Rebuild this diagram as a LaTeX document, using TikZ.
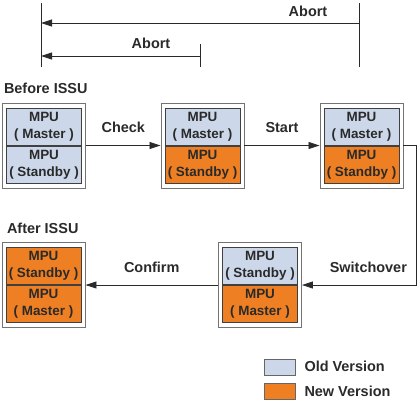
\documentclass[tikz,border=0pt]{standalone}
\usepackage{fontspec}
\setmainfont{Liberation Sans}
\usetikzlibrary{arrows.meta}
\definecolor{old}{HTML}{CCD8E9}
\definecolor{new}{HTML}{EF7F23}
\definecolor{ink}{HTML}{2A2A2A}

\begin{document}
\begin{tikzpicture}[x=1bp,y=-1bp,
  font=\bfseries, text=ink,
  unit/.style={draw=black!55, line width=0.9pt, fill=white, minimum width=83bp, minimum height=85bp, inner sep=0pt},
  half/.style={draw=black!75, line width=0.7pt, minimum width=75bp, minimum height=37bp, inner sep=0pt, align=center, font=\bfseries\fontsize{13.5}{17}\selectfont},
  lbl/.style={font=\bfseries\fontsize{14.5}{17}\selectfont},
  flow/.style={-{Triangle[length=11bp,width=7bp]}, draw=ink, line width=0.8pt},
  key/.style={draw=black!60, line width=0.8pt, minimum width=31bp, minimum height=16bp, inner sep=0pt}]
\useasboundingbox (0,0) rectangle (420,400);
% abort markers
\coordinate (s0) at (41,3); \coordinate (s1) at (41,67);
\coordinate (m0) at (200,44); \coordinate (m1) at (200,67);
\coordinate (e0) at (359,3); \coordinate (e1) at (359,67);
\draw[ink, line width=0.8pt] (s0) -- (s1) (m0) -- (m1) (e0) -- (e1);
\coordinate (la) at (359,23); \coordinate (lb) at (41,23);
\coordinate (sa) at (200,56); \coordinate (sb) at (41,56);
\draw[flow] (la) -- (lb);
\draw[flow] (sa) -- (sb);
\node[lbl] (ab1) at (308,11) {Abort};
\node[lbl] (ab2) at (151,43) {Abort};
% MPU units
\foreach \n/\x/\y/\ca/\ta/\cb/\tb in {u1/44/145.5/old/Master/old/Standby,
  u2/202.5/145.5/old/Master/new/Standby, u3/361.5/145.5/old/Master/new/Standby,
  u4/260/285/old/Standby/new/Master, u5/43.5/285/new/Standby/new/Master}
{
  \node[unit] (\n) at (\x,\y) {};
  \node[half, fill=\ca, anchor=south] (\n a) at (\n.center) {MPU\\( \ta{} )};
  \node[half, fill=\cb, anchor=north] (\n b) at (\n.center) {MPU\\( \tb{} )};
}
\node[lbl, anchor=west] (before) at (0.5,88) {Before ISSU};
\node[lbl, anchor=west] (after) at (3.5,228) {After ISSU};
% steps
\draw[flow] (u1) -- (u2) node[lbl, midway, above=9bp] {Check};
\draw[flow] (u2) -- (u3) node[lbl, midway, above=9bp] {Start};
\draw[flow] (u3.east) -- ++(13,0) |- (u4.east) node[lbl, pos=0.71, above=9bp] {Switchover};
\draw[flow] (u4) -- (u5) node[lbl, midway, above=9bp] {Confirm};
% legend
\node[key, fill=old] (k1) at (279.5,367) {};
\node[key, fill=new] (k2) at (279.5,391) {};
\node[lbl, anchor=west] at (301,366) {Old Version};
\node[lbl, anchor=west] at (301,391) {New Version};
\end{tikzpicture}
\end{document}
